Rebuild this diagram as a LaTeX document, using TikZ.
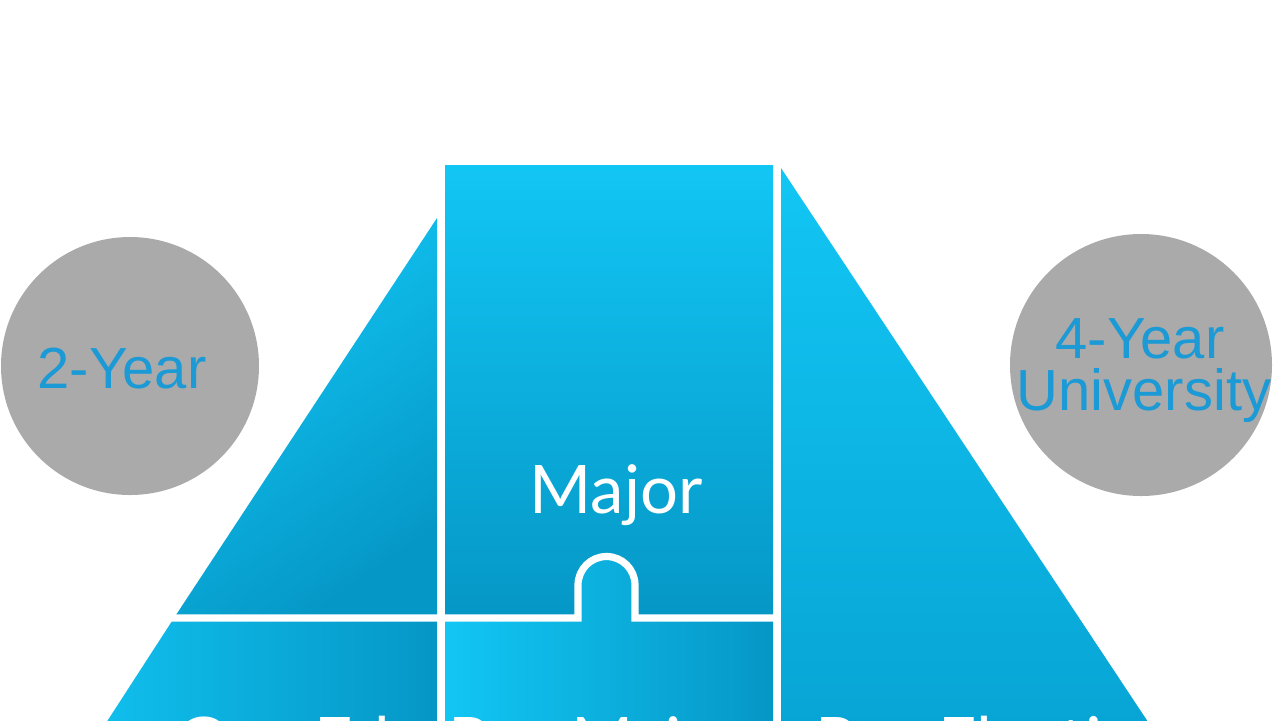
\documentclass[tikz,border=0pt]{standalone}
\usepackage{fontspec}
\setmainfont{Lato}
\newfontfamily\circfont{Liberation Sans}
\definecolor{cyanL}{HTML}{12C6F4}
\definecolor{cyanD}{HTML}{0597C6}
\definecolor{cyanM}{HTML}{07A4D4}
\definecolor{circgray}{HTML}{AAAAAA}
\definecolor{circtext}{HTML}{1C9AD6}
\begin{document}
\begin{tikzpicture}[x=0.5pt,y=-0.5pt,
  gapline/.style={white, line width=3.6pt},
  yearcircle/.style={circle, fill=circgray, inner sep=0pt, minimum size=#1},
  circlabel/.style={font=\circfont\fontsize{29}{26}\selectfont, text=circtext, inner sep=0pt, anchor=base},
  piecelabel/.style={font=\fontsize{33.5}{36}\selectfont, text=white, inner sep=0pt}]
\useasboundingbox (0,0) rectangle (1280,720);
\clip (0,0) rectangle (1280,720);
% pieces
\shade[top color=cyanL, bottom color=cyanD] (445,165) rectangle (773,618);
\shade[top color=cyanL, bottom color=cyanD, shading angle=35] (437,218) -- (437,618) -- (174,618) -- cycle;
\shade[left color=cyanL!85!cyanD, right color=cyanD] (174,618) -- (437,618) -- (437,740) -- (95,740) -- cycle;
\shade[left color=cyanL, right color=cyanD] (445,740) -- (445,618) -- (578,618) -- (578,585) arc[start angle=180, end angle=360, radius=28.5] -- (635,618) -- (773,618) -- (773,740) -- cycle;
\shade[top color=cyanL, bottom color=cyanM] (781,168) -- (1160,740) -- (781,740) -- cycle;
% horizontal gap with the tab
\coordinate (gl) at (150,618);
\coordinate (gr) at (777,618);
\coordinate (tabl) at (578,618);
\coordinate (tabr) at (635,618);
\draw[gapline] (gl) -- (tabl) -- (578,585) arc[start angle=180, end angle=360, radius=28.5] -- (tabr) -- (gr);
% circles
\node[yearcircle=129pt] (c2) at (130,366) {};
\node[yearcircle=131pt] (c4) at (1141,365) {};
\node[circlabel] (t2) at (122,388) {2-Year};
\node[circlabel] (t4a) at (1140,358) {4-Year};
\node[circlabel] (t4b) at (1144,410) {University};
% piece labels
\node[piecelabel, anchor=base] (major) at (616,513) {Major};
\node[piecelabel, anchor=base west] (gened) at (176,765) {Gen Ed};
\node[piecelabel, anchor=base west] (premajor) at (448,765) {Pre-Major};
\node[piecelabel, anchor=base west] (elect) at (815,765) {Pre-Electives};
\end{tikzpicture}
\end{document}
